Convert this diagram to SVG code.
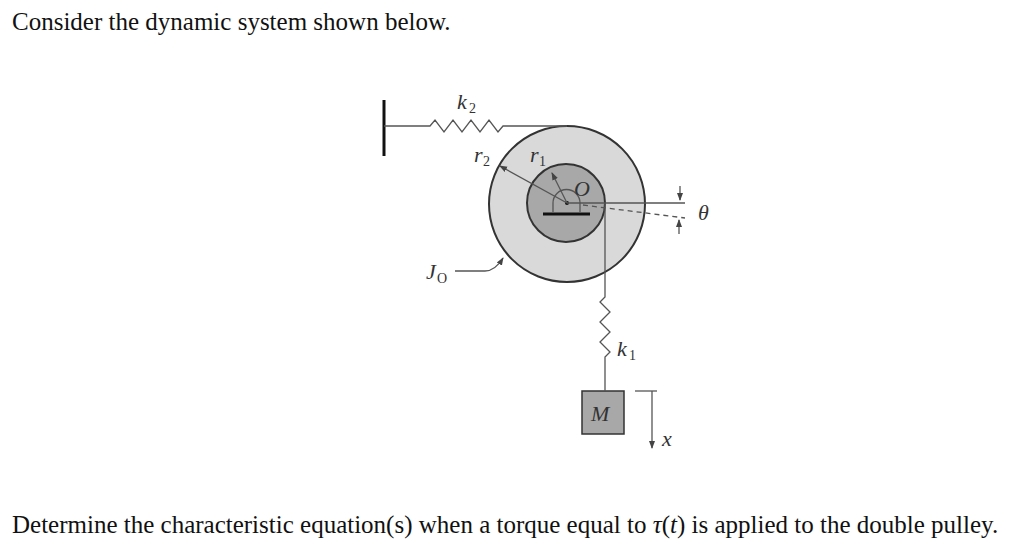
<svg xmlns="http://www.w3.org/2000/svg" width="1017" height="559" viewBox="0 0 1017 559">
<style>
.t{font-family:"Liberation Serif",serif;font-size:25px;fill:#111}
.m{font-family:"Liberation Serif",serif;font-style:italic;font-size:22px;fill:#333}
.s{font-family:"Liberation Serif",serif;font-size:14px;fill:#333}
.l{stroke:#555;stroke-width:1.3;fill:none}
</style>
<defs><marker id="a" markerWidth="8" markerHeight="8" refX="7" refY="4" orient="auto-start-reverse" markerUnits="userSpaceOnUse"><path d="M0,1 L8,4 L0,7 z" fill="#444"/></marker></defs>
<rect width="1017" height="559" fill="#fff"/>
<text class="t" x="12" y="30">Consider the dynamic system shown below.</text>
<g id="pulley">
<circle cx="567" cy="204" r="78" fill="#d9d9d9" stroke="#333" stroke-width="2"/>
<circle cx="566" cy="203" r="39" fill="#a8a8a8" stroke="#333" stroke-width="2"/>
<path d="M553,212 V203 A13,13 0 0 1 580,203 V212" class="l"/>
<line x1="543" y1="214" x2="590" y2="214" stroke="#111" stroke-width="3"/>
<circle cx="567" cy="203" r="2" fill="#111"/>
<text class="m" x="574" y="196">O</text>
</g>
<g id="wall"><line x1="384" y1="100" x2="384" y2="156" stroke="#111" stroke-width="3"/></g>
<g id="mass"><rect x="582" y="391" width="42" height="43" fill="#a8a8a8" stroke="#333" stroke-width="1.5"/><text class="m" x="591" y="421">M</text></g>
<g id="connectors">
<path class="l" d="M384,126 H430 l5,-6 l9,12 l9,-12 l9,12 l9,-12 l9,12 l9,-12 l9,12 l5,-6 H567"/>
<path class="l" d="M605,203 V297 l-5,5 l10,10 l-10,10 l10,10 l-10,10 l10,10 l-5,5 V391"/>
<line class="l" x1="500" y1="166" x2="567" y2="203" marker-start="url(#a)" stroke-width="1"/>
<line class="l" x1="552" y1="173" x2="567" y2="203" marker-start="url(#a)" stroke-width="1"/>
<line class="l" x1="567" y1="203" x2="685" y2="203"/>
<line class="l" x1="583" y1="205" x2="685" y2="218" stroke-dasharray="5,4"/>
<line class="l" x1="680" y1="186" x2="680" y2="200" marker-end="url(#a)" stroke-width="1"/>
<line class="l" x1="679" y1="234" x2="679" y2="220" marker-end="url(#a)" stroke-width="1"/>
<path class="l" d="M455,271 H485 Q495,271 503,258" marker-end="url(#a)" stroke-width="1"/>
<line class="l" x1="635" y1="391" x2="657" y2="391"/>
<line class="l" x1="652" y1="391" x2="652" y2="448" marker-end="url(#a)"/>
</g>
<text class="m" x="457" y="109">k</text><text class="s" x="469" y="113">2</text>
<text class="m" x="474" y="162">r</text><text class="s" x="483" y="166">2</text>
<text class="m" x="530" y="162">r</text><text class="s" x="539" y="166">1</text>
<text class="m" x="426" y="279">J</text><text class="s" x="437" y="283">O</text>
<text class="m" x="617" y="356">k</text><text class="s" x="629" y="360">1</text>
<text class="m" x="698" y="220">θ</text>
<text class="m" x="662" y="446">x</text>
<text class="t" x="12" y="533">Determine the characteristic equation(s) when a torque equal to <tspan font-style="italic">τ</tspan>(<tspan font-style="italic">t</tspan>) is applied to the double pulley.</text>
</svg>
